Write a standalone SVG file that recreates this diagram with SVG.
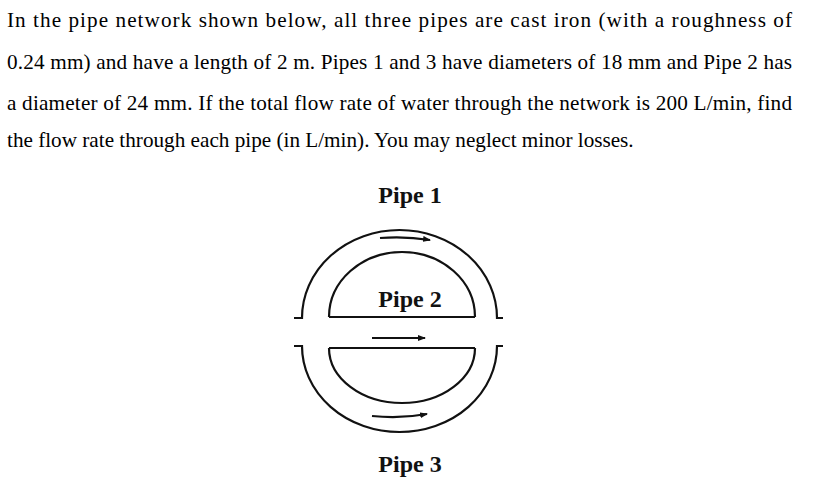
<svg xmlns="http://www.w3.org/2000/svg" width="828" height="498" viewBox="0 0 828 498">
<style>
.t{font-family:"Liberation Serif",serif;font-size:21.2px;fill:#000}
.l{font-family:"Liberation Serif",serif;font-size:24px;font-weight:bold;fill:#111}
.p{fill:none;stroke:#111;stroke-width:2.2}
.a{fill:none;stroke:#111;stroke-width:2.2}
</style>
<defs><marker id="ah" markerWidth="8" markerHeight="6" refX="7" refY="3" orient="auto" markerUnits="userSpaceOnUse"><path d="M0,0 L8,3 L0,6 z" fill="#111"/></marker></defs>
<rect width="828" height="498" fill="#fff"/>
<text class="t" x="7" y="27" textLength="785" lengthAdjust="spacing">In the pipe network shown below, all three pipes are cast iron (with a roughness of</text>
<text class="t" x="7" y="69" textLength="785" lengthAdjust="spacing">0.24 mm) and have a length of 2 m. Pipes 1 and 3 have diameters of 18 mm and Pipe 2 has</text>
<text class="t" x="7" y="110" textLength="785" lengthAdjust="spacing">a diameter of 24 mm. If the total flow rate of water through the network is 200 L/min, find</text>
<text class="t" x="7" y="147">the flow rate through each pipe (in L/min). You may neglect minor losses.</text>
<g id="pipe1">
<path class="p" d="M294,318 H302 A97.5,88 0 0 1 497,318 H503"/>
<path class="p" d="M329,317 A73,65 0 0 1 475,317"/>
<path class="a" d="M380,238 Q405,236 430,240" marker-end="url(#ah)"/>
<text class="l" x="410" y="203" text-anchor="middle">Pipe 1</text>
</g>
<g id="pipe2">
<line class="p" x1="329" y1="317" x2="475" y2="317"/>
<line class="p" x1="329" y1="348" x2="475" y2="348"/>
<line class="a" x1="372" y1="338" x2="425" y2="338" marker-end="url(#ah)"/>
<text class="l" x="410" y="307" text-anchor="middle">Pipe 2</text>
</g>
<g id="pipe3">
<path class="p" d="M294,346 H302 A97.5,86 0 0 0 497,346 H503"/>
<path class="p" d="M329,348 A73,55 0 0 0 475,348"/>
<path class="a" d="M372,416 Q400,419 427,414" marker-end="url(#ah)"/>
<text class="l" x="410" y="472" text-anchor="middle">Pipe 3</text>
</g>
</svg>
